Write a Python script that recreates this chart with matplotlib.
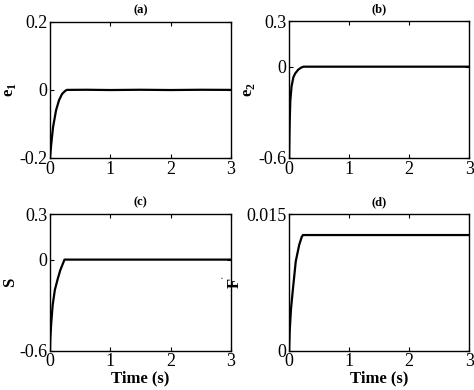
import numpy as np
import matplotlib
matplotlib.use("Agg")
import matplotlib.pyplot as plt

plt.rcParams['font.family'] = 'Liberation Serif'
plt.rcParams['mathtext.fontset'] = 'custom'
plt.rcParams['mathtext.rm'] = 'Liberation Serif'
plt.rcParams['mathtext.bf'] = 'Liberation Serif:bold'

# values
t_a = [0, 0.01, 0.02, 0.05, 0.1, 0.15, 0.2, 0.25, 0.28, 0.6, 1.0, 1.5, 2.0, 2.5, 3.0]
e1 = [-0.2, -0.18, -0.16, -0.11, -0.06, -0.03, -0.012, -0.003, 0, 0.0004, -0.0004, 0.0004, -0.0004, 0.0004, 0]
t_b = [0, 0.005, 0.01, 0.02, 0.04, 0.07, 0.1, 0.15, 0.2, 0.24, 3.0]
e2 = [-0.6, -0.45, -0.35, -0.22, -0.13, -0.07, -0.045, -0.02, -0.006, 0, 0]
t_c = [0, 0.005, 0.02, 0.044, 0.08, 0.128, 0.17, 0.21, 0.24, 3.0]
S = [-0.6, -0.52, -0.42, -0.30, -0.2, -0.127, -0.07, -0.03, 0, 0]
t_d = [0, 0.005, 0.01, 0.03, 0.056, 0.11, 0.167, 0.21, 0.23, 3.0]
F = [0, 0.0012, 0.0022, 0.0045, 0.0063, 0.0098, 0.0116, 0.0125, 0.0127, 0.0127]

panels = [
    ([0.1055, 0.595, 0.382, 0.349], t_a, e1, (-0.2, 0.2), [-0.2, 0, 0.2], ['-0.2', '0', '0.2'],
     r'$\mathbf{e}_\mathbf{1}$', '(a)', False),
    ([0.61, 0.595, 0.38, 0.351], t_b, e2, (-0.6, 0.3), [-0.6, 0, 0.3], ['-0.6', '0', '0.3'],
     r'$\mathbf{e}_\mathbf{2}$', '(b)', False),
    ([0.1055, 0.101, 0.382, 0.35], t_c, S, (-0.6, 0.3), [-0.6, 0, 0.3], ['-0.6', '0', '0.3'],
     'S', '(c)', True),
    ([0.61, 0.101, 0.38, 0.35], t_d, F, (0, 0.015), [0, 0.015], ['0', '0.015'],
     r"$\mathbf{F}^{'}$", '(d)', True),
]

fig = plt.figure(figsize=(4.74, 3.9), dpi=100)
for rect, t, y, ylim, yt, ytl, ylab, title, xl in panels:
    ax = fig.add_axes(rect)
    ax.plot(t, y, color='black', lw=1.6)
    ax.set_xlim(0, 3)
    ax.set_ylim(*ylim)
    ax.set_xticks([0, 1, 2, 3])
    ax.set_yticks(yt)
    ax.set_yticklabels(ytl)
    ax.tick_params(direction='in', top=True, right=True, labelsize=13, length=3, pad=2)
    for s in ax.spines.values():
        s.set_linewidth(1.0)
    ax.set_title(title, fontsize=9, fontweight='bold', pad=6)
    ax.set_ylabel(ylab, fontsize=12, fontweight='bold', labelpad=1)
    if xl:
        ax.set_xlabel('Time (s)', fontsize=12, fontweight='bold', labelpad=0)

fig.savefig('out.png', dpi=100)
